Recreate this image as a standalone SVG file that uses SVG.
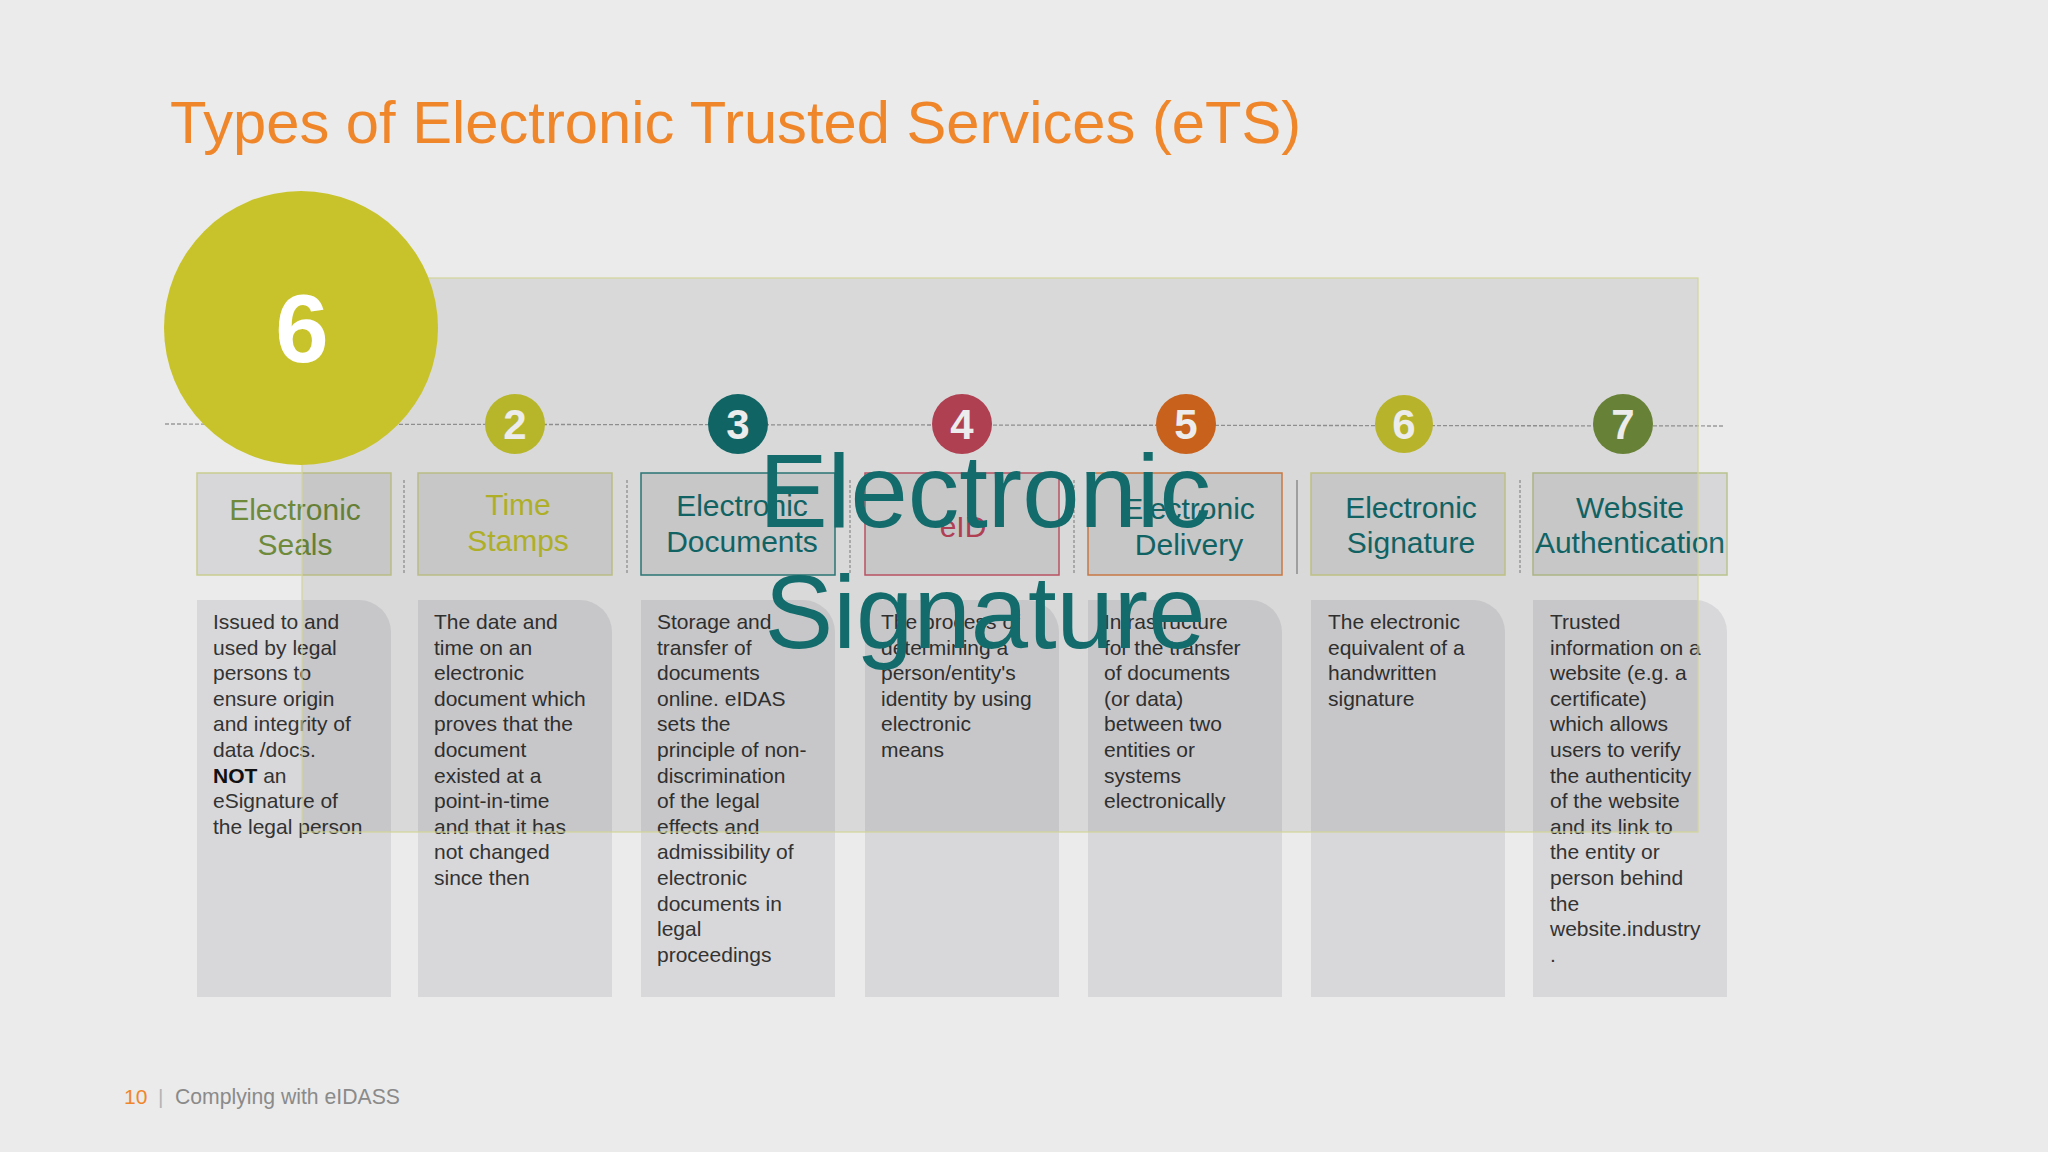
<svg xmlns="http://www.w3.org/2000/svg" width="2048" height="1152" viewBox="0 0 2048 1152">
<style>
  text { font-family: "Liberation Sans", Arial, sans-serif; }
  .title { font-size: 59.7px; fill: #F0862A; }
  .hbox { fill: #D7D7D9; stroke-width: 1.5; }
  .htext { font-size: 30px; text-anchor: middle; }
  .dbox { fill: #D8D8DA; }
  .dtext { font-size: 21px; fill: #333333; }
  .num { font-size: 42px; font-weight: bold; fill: #FFFFFF; text-anchor: middle; }
  .sep { stroke: #9A9A9A; stroke-width: 1.3; stroke-dasharray: 3 2; }
  .teal { fill: #136B6B; }
</style>
<rect x="0" y="0" width="2048" height="1152" fill="#EBEBEB"/>
<text class="title" x="170" y="143">Types of Electronic Trusted Services (eTS)</text>

<g id="connectors">
  <line x1="165" y1="424" x2="1725" y2="426" stroke="#9A9A9A" stroke-width="1.3" stroke-dasharray="4 2"/>
  <line class="sep" x1="404" y1="480" x2="404" y2="574"/>
  <line class="sep" x1="627" y1="480" x2="627" y2="574"/>
  <line class="sep" x1="850" y1="480" x2="850" y2="574"/>
  <line class="sep" x1="1074" y1="480" x2="1074" y2="574"/>
  <line x1="1297" y1="480" x2="1297" y2="574" stroke="#8A8A8A" stroke-width="1.3"/>
  <line class="sep" x1="1520" y1="480" x2="1520" y2="574"/>
</g>

<g id="col1">
  <rect class="hbox" x="197" y="473" width="194" height="102" stroke="#C9CD8E"/>
  <text class="htext" x="295" y="520" fill="#6E8A3A">Electronic</text>
  <text class="htext" x="295" y="555" fill="#6E8A3A">Seals</text>
  <path class="dbox" d="M197 600 H359 A32 32 0 0 1 391 632 V997 H197 Z"/>
  <text class="dtext" x="213" y="629">
    <tspan x="213">Issued to and</tspan>
    <tspan x="213" dy="25.6">used by legal</tspan>
    <tspan x="213" dy="25.6">persons to</tspan>
    <tspan x="213" dy="25.6">ensure origin</tspan>
    <tspan x="213" dy="25.6">and integrity of</tspan>
    <tspan x="213" dy="25.6">data /docs.</tspan>
    <tspan x="213" dy="25.6" font-weight="bold" fill="#111">NOT</tspan><tspan> an</tspan>
    <tspan x="213" dy="25.6">eSignature of</tspan>
    <tspan x="213" dy="25.6">the legal person</tspan>
  </text>
</g>

<g id="col2">
  <rect class="hbox" x="418" y="473" width="194" height="102" stroke="#C9CD8E"/>
  <text class="htext" x="518" y="515" fill="#BDBE2A">Time</text>
  <text class="htext" x="518" y="551" fill="#BDBE2A">Stamps</text>
  <path class="dbox" d="M418 600 H580 A32 32 0 0 1 612 632 V997 H418 Z"/>
  <text class="dtext" x="434" y="629">
    <tspan x="434">The date and</tspan>
    <tspan x="434" dy="25.6">time on an</tspan>
    <tspan x="434" dy="25.6">electronic</tspan>
    <tspan x="434" dy="25.6">document which</tspan>
    <tspan x="434" dy="25.6">proves that the</tspan>
    <tspan x="434" dy="25.6">document</tspan>
    <tspan x="434" dy="25.6">existed at a</tspan>
    <tspan x="434" dy="25.6">point-in-time</tspan>
    <tspan x="434" dy="25.6">and that it has</tspan>
    <tspan x="434" dy="25.6">not changed</tspan>
    <tspan x="434" dy="25.6">since then</tspan>
  </text>
  <circle cx="515" cy="424" r="30" fill="#C6C52E"/>
  <text class="num" x="515" y="439">2</text>
</g>

<g id="col3">
  <rect class="hbox" x="641" y="473" width="194" height="102" stroke="#2E7E7E"/>
  <text class="htext" x="742" y="516" fill="#136B6B">Electronic</text>
  <text class="htext" x="742" y="552" fill="#136B6B">Documents</text>
  <path class="dbox" d="M641 600 H803 A32 32 0 0 1 835 632 V997 H641 Z"/>
  <text class="dtext" x="657" y="629">
    <tspan x="657">Storage and</tspan>
    <tspan x="657" dy="25.6">transfer of</tspan>
    <tspan x="657" dy="25.6">documents</tspan>
    <tspan x="657" dy="25.6">online. eIDAS</tspan>
    <tspan x="657" dy="25.6">sets the</tspan>
    <tspan x="657" dy="25.6">principle of non-</tspan>
    <tspan x="657" dy="25.6">discrimination</tspan>
    <tspan x="657" dy="25.6">of the legal</tspan>
    <tspan x="657" dy="25.6">effects and</tspan>
    <tspan x="657" dy="25.6">admissibility of</tspan>
    <tspan x="657" dy="25.6">electronic</tspan>
    <tspan x="657" dy="25.6">documents in</tspan>
    <tspan x="657" dy="25.6">legal</tspan>
    <tspan x="657" dy="25.6">proceedings</tspan>
  </text>
  <circle cx="738" cy="424" r="30" fill="#136D6D"/>
  <text class="num" x="738" y="439">3</text>
</g>

<g id="col4">
  <rect class="hbox" x="865" y="473" width="194" height="102" stroke="#C85A6A"/>
  <text class="htext" x="963" y="537" fill="#C0455A">eID</text>
  <path class="dbox" d="M865 600 H1027 A32 32 0 0 1 1059 632 V997 H865 Z"/>
  <text class="dtext" x="881" y="629">
    <tspan x="881">The process of</tspan>
    <tspan x="881" dy="25.6">determining  a</tspan>
    <tspan x="881" dy="25.6">person/entity's</tspan>
    <tspan x="881" dy="25.6">identity by using</tspan>
    <tspan x="881" dy="25.6">electronic</tspan>
    <tspan x="881" dy="25.6">means</tspan>
  </text>
  <circle cx="962" cy="424" r="30" fill="#BE4658"/>
  <text class="num" x="962" y="439">4</text>
</g>

<g id="col5">
  <rect class="hbox" x="1088" y="473" width="194" height="102" stroke="#D9824A"/>
  <text class="htext" x="1189" y="519" fill="#136B6B">Electronic</text>
  <text class="htext" x="1189" y="555" fill="#136B6B">Delivery</text>
  <path class="dbox" d="M1088 600 H1250 A32 32 0 0 1 1282 632 V997 H1088 Z"/>
  <text class="dtext" x="1104" y="629">
    <tspan x="1104">Infrastructure</tspan>
    <tspan x="1104" dy="25.6">for the transfer</tspan>
    <tspan x="1104" dy="25.6">of documents</tspan>
    <tspan x="1104" dy="25.6">(or data)</tspan>
    <tspan x="1104" dy="25.6">between two</tspan>
    <tspan x="1104" dy="25.6">entities or</tspan>
    <tspan x="1104" dy="25.6">systems</tspan>
    <tspan x="1104" dy="25.6">electronically</tspan>
  </text>
  <circle cx="1186" cy="424" r="30" fill="#D8691F"/>
  <text class="num" x="1186" y="439">5</text>
</g>

<g id="col6">
  <rect class="hbox" x="1311" y="473" width="194" height="102" stroke="#CDD08E"/>
  <text class="htext" x="1411" y="518" fill="#136B6B">Electronic</text>
  <text class="htext" x="1411" y="553" fill="#136B6B">Signature</text>
  <path class="dbox" d="M1311 600 H1473 A32 32 0 0 1 1505 632 V997 H1311 Z"/>
  <text class="dtext" x="1328" y="629">
    <tspan x="1328">The electronic</tspan>
    <tspan x="1328" dy="25.6">equivalent of a</tspan>
    <tspan x="1328" dy="25.6">handwritten</tspan>
    <tspan x="1328" dy="25.6">signature</tspan>
  </text>
  <circle cx="1404" cy="424" r="29" fill="#C6C22E"/>
  <text class="num" x="1404" y="439">6</text>
</g>

<g id="col7">
  <rect class="hbox" x="1533" y="473" width="194" height="102" stroke="#B9C48E"/>
  <text class="htext" x="1630" y="518" fill="#136B6B">Website</text>
  <text class="htext" x="1630" y="553" fill="#136B6B">Authentication</text>
  <path class="dbox" d="M1533 600 H1695 A32 32 0 0 1 1727 632 V997 H1533 Z"/>
  <text class="dtext" x="1550" y="629">
    <tspan x="1550">Trusted</tspan>
    <tspan x="1550" dy="25.6">information on a</tspan>
    <tspan x="1550" dy="25.6">website (e.g. a</tspan>
    <tspan x="1550" dy="25.6">certificate)</tspan>
    <tspan x="1550" dy="25.6">which allows</tspan>
    <tspan x="1550" dy="25.6">users to verify</tspan>
    <tspan x="1550" dy="25.6">the authenticity</tspan>
    <tspan x="1550" dy="25.6">of the website</tspan>
    <tspan x="1550" dy="25.6">and its link to</tspan>
    <tspan x="1550" dy="25.6">the entity or</tspan>
    <tspan x="1550" dy="25.6">person behind</tspan>
    <tspan x="1550" dy="25.6">the</tspan>
    <tspan x="1550" dy="25.6">website.industry</tspan>
    <tspan x="1550" dy="25.6">.</tspan>
  </text>
  <circle cx="1623" cy="424" r="30" fill="#708C3B"/>
  <text class="num" x="1623" y="439">7</text>
</g>

<g id="overlay">
  <rect x="302" y="278" width="1396" height="554" fill="#000000" fill-opacity="0.075" stroke="#D2D59A" stroke-width="1.2"/>
</g>

<g id="big-circle">
  <circle cx="301" cy="328" r="137" fill="#C8C32A"/>
  <text x="302" y="362" font-size="96" font-weight="bold" fill="#FFFFFF" text-anchor="middle">6</text>
</g>

<g id="big-label">
  <text class="teal" x="985" y="527" font-size="103" text-anchor="middle">Electronic</text>
  <text class="teal" x="985" y="648" font-size="103" text-anchor="middle">Signature</text>
</g>

<g id="footer">
  <text x="124" y="1104" font-size="21" fill="#F0862A">10</text>
  <text x="158" y="1104" font-size="21" fill="#B5B5B5">|</text>
  <text x="175" y="1104" font-size="21.2" fill="#8A8A8A">Complying with eIDASS</text>
</g>
</svg>
